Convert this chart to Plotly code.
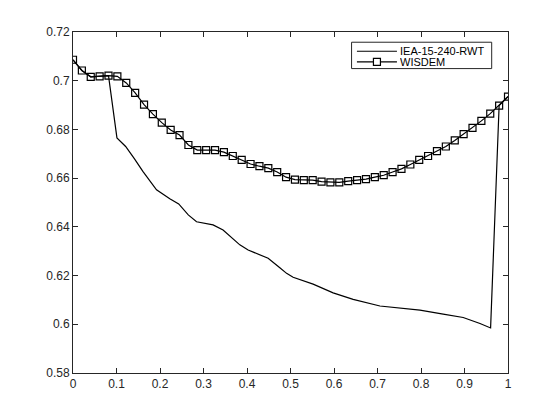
import plotly.graph_objects as go

# WISDEM markers (50 equally spaced stations)
wisdem_x = [0.0, 0.0204, 0.0408, 0.0612, 0.0816, 0.1020, 0.1224, 0.1429, 0.1633, 0.1837,
            0.2041, 0.2245, 0.2449, 0.2653, 0.2857, 0.3061, 0.3265, 0.3469, 0.3673, 0.3878,
            0.4082, 0.4286, 0.4490, 0.4694, 0.4898, 0.5102, 0.5306, 0.5510, 0.5714, 0.5918,
            0.6122, 0.6327, 0.6531, 0.6735, 0.6939, 0.7143, 0.7347, 0.7551, 0.7755, 0.7959,
            0.8163, 0.8367, 0.8571, 0.8776, 0.8980, 0.9184, 0.9388, 0.9592, 0.9796, 1.0]
wisdem_y = [0.7086, 0.7042, 0.7016, 0.7018, 0.7021, 0.7018, 0.6991, 0.6950, 0.6902, 0.6863,
            0.6828, 0.6798, 0.6777, 0.6736, 0.6715, 0.6715, 0.6715, 0.6707, 0.6691, 0.6675,
            0.6658, 0.6649, 0.6641, 0.6625, 0.6604, 0.6594, 0.6592, 0.6592, 0.6586, 0.6583,
            0.6583, 0.6588, 0.6592, 0.6596, 0.6604, 0.6612, 0.6625, 0.6638, 0.6656, 0.6675,
            0.6691, 0.6711, 0.6730, 0.6755, 0.6781, 0.6806, 0.6835, 0.6865, 0.6898, 0.6935]

# IEA-15-240-RWT line
iea_x = [0.0, 0.0204, 0.0408, 0.0612, 0.0816, 0.101, 0.121, 0.141, 0.161, 0.192,
         0.203, 0.2225, 0.243, 0.265, 0.284, 0.322, 0.345, 0.3835, 0.4026, 0.4486,
         0.4755, 0.491, 0.506, 0.552, 0.598, 0.644, 0.7056, 0.744, 0.7976, 0.851,
         0.897, 0.9356, 0.96, 0.9796, 1.0]
iea_y = [0.7086, 0.7042, 0.7016, 0.7018, 0.7021, 0.6765, 0.6730, 0.6680, 0.6627, 0.6552,
         0.6538, 0.6515, 0.6494, 0.6449, 0.6421, 0.6408, 0.6387, 0.6326, 0.6305, 0.6271,
         0.6232, 0.6209, 0.6193, 0.6165, 0.6129, 0.6102, 0.6075, 0.6068, 0.6058, 0.6042,
         0.6028, 0.6003, 0.5985, 0.6898, 0.6935]

series_names = ["IEA-15-240-RWT", "WISDEM"]

fig = go.Figure()

fig.add_trace(go.Scatter(
    x=iea_x, y=iea_y,
    mode="lines",
    name=series_names[0],
    line=dict(color="black", width=1.2),
    showlegend=False,
))

fig.add_trace(go.Scatter(
    x=wisdem_x, y=wisdem_y,
    mode="lines+markers",
    name=series_names[1],
    line=dict(color="black", width=1.2),
    marker=dict(symbol="square-open", size=7, color="black", line=dict(width=1.2)),
    showlegend=False,
))

# --- compact MATLAB-style legend box (plotly's own legend rows are too tall) ---
LEG_X0, LEG_X1 = 0.6404, 0.9625
LEG_Y0, LEG_Y1 = 0.8927, 0.970
SAMPLE_X0, SAMPLE_X1, TEXT_X = 0.6527, 0.7447, 0.749
ROW_Y = [0.9436, 0.9124]

fig.add_shape(type="rect", xref="paper", yref="paper",
              x0=LEG_X0, x1=LEG_X1, y0=LEG_Y0, y1=LEG_Y1,
              line=dict(color="#262626", width=1), fillcolor="white")
for name, ry in zip(series_names, ROW_Y):
    fig.add_shape(type="line", xref="paper", yref="paper",
                  x0=SAMPLE_X0, x1=SAMPLE_X1, y0=ry, y1=ry,
                  line=dict(color="black", width=1.2))
    fig.add_annotation(x=TEXT_X, y=ry, xref="paper", yref="paper",
                       text=name, showarrow=False, xanchor="left", yanchor="middle",
                       height=10, borderpad=0,
                       font=dict(size=11, color="black"))
# square marker sample on the WISDEM row
fig.add_shape(type="rect", xref="paper", yref="paper",
              xsizemode="pixel", ysizemode="pixel",
              xanchor=(SAMPLE_X0 + SAMPLE_X1) / 2, yanchor=ROW_Y[1],
              x0=-3.5, x1=3.5, y0=-3.5, y1=3.5,
              line=dict(color="black", width=1.2), fillcolor="white")

axis_style = dict(
    showline=True,
    linecolor="#262626",
    linewidth=1,
    mirror="ticks",
    ticks="inside",
    ticklen=5,
    tickcolor="#262626",
    showgrid=False,
    zeroline=False,
    tickfont=dict(size=12, color="#262626"),
)

fig.update_layout(
    width=552,
    height=412,
    margin=dict(l=65, r=52, t=24, b=47),
    plot_bgcolor="white",
    paper_bgcolor="white",
    font=dict(family="Liberation Sans, Arial", size=12, color="#262626"),
    xaxis=dict(range=[0, 1], dtick=0.1, **axis_style),
    yaxis=dict(range=[0.58, 0.72], dtick=0.02, **axis_style),
)

fig.write_html("out.html")
